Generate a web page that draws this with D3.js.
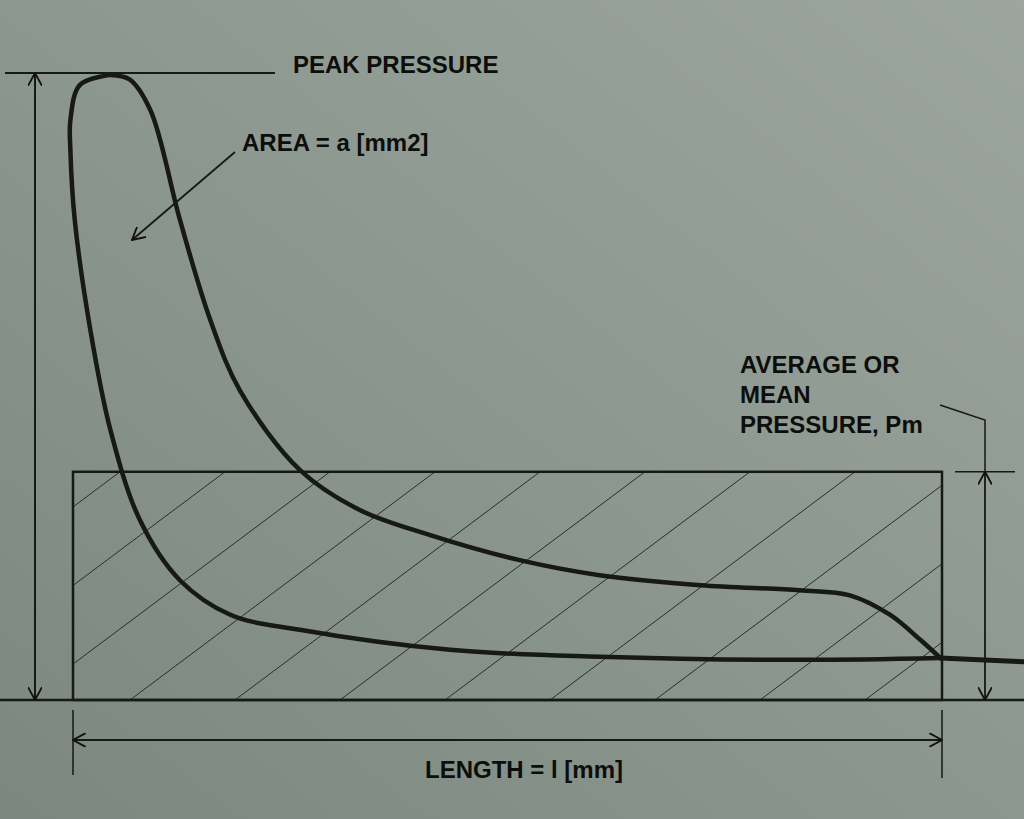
<!DOCTYPE html><html><head><meta charset="utf-8"><script src="https://cdn.jsdelivr.net/npm/d3@7"></script>
<style>body{margin:0;overflow:hidden}</style></head><body><script>
const expansionX=[4.3,6.5,8.9,12.3,15.8,19.2,26.1,33.0,41.1,51.4,60.6,72.2,83.6,89.4,94.0,97.5,99.8];
const expansionY=[99.7,99.0,94.1,76.6,60.6,49.4,36.7,30.3,26.3,22.3,19.9,18.3,17.5,16.7,13.6,9.6,6.7];
const compressionX=[99.8,83.6,60.6,43.4,26.1,18.1,12.3,7.7,4.3,2.0,0.2,-0.3,-0.3,0.8,4.3];
const compressionY=[6.7,6.4,6.9,8.0,11.2,13.6,19.1,28.7,43.1,59.0,76.6,87.7,92.5,98.1,99.7];
const tailX=[99.8,109.4];const tailY=[6.7,6.1];
const meanPressure=36.4;
const labels={peak:"PEAK PRESSURE",area:"AREA = a [mm2]",mean:["AVERAGE OR","MEAN","PRESSURE, Pm"],length:"LENGTH = l [mm]"};
const W=1024,H=819;
const x=d3.scaleLinear().domain([0,100]).range([73,942]);
const y=d3.scaleLinear().domain([0,100]).range([700,73]);
const svg=d3.select("body").append("svg").attr("width",W).attr("height",H);
const defs=svg.append("defs");
const g=defs.append("linearGradient").attr("id","bg").attr("x1","0").attr("y1","1").attr("x2","1").attr("y2","0");
g.append("stop").attr("offset","0").attr("stop-color","#7b877f");
g.append("stop").attr("offset","0.5").attr("stop-color","#8c978f");
g.append("stop").attr("offset","1").attr("stop-color","#9ca69f");
svg.append("rect").attr("width",W).attr("height",H).attr("fill","url(#bg)");
const mk=defs.append("marker").attr("id","ah").attr("viewBox","0 0 12 12").attr("refX",11).attr("refY",6).attr("markerWidth",14).attr("markerHeight",14).attr("markerUnits","userSpaceOnUse").attr("orient","auto-start-reverse");
mk.append("path").attr("d","M0,0L11,6L0,12").attr("fill","none").attr("stroke","#111").attr("stroke-width",1.6);
defs.append("clipPath").attr("id","rc").append("rect").attr("x",x(0)).attr("y",y(meanPressure)).attr("width",x(100)-x(0)).attr("height",y(0)-y(meanPressure));
const ink="#161916";
const ln=(x1,y1,x2,y2,w=2.5)=>svg.append("line").attr("x1",x1).attr("y1",y1).attr("x2",x2).attr("y2",y2).attr("stroke",ink).attr("stroke-width",w);
const hg=svg.append("g").attr("clip-path","url(#rc)");
for(let b=x(0)-363;b<x(100)+100;b+=105){hg.append("line").attr("x1",b).attr("y1",y(0)).attr("x2",b+305).attr("y2",y(meanPressure)).attr("stroke","#2a2e2b").attr("stroke-width",1);}
svg.append("rect").attr("x",x(0)).attr("y",y(meanPressure)).attr("width",x(100)-x(0)).attr("height",y(0)-y(meanPressure)).attr("fill","none").attr("stroke",ink).attr("stroke-width",2.5);
ln(0,y(0),W,y(0));
ln(5,y(100),275,y(100),2);
ln(35,y(100),35,y(0),2).attr("marker-start","url(#ah)").attr("marker-end","url(#ah)");
ln(955,y(meanPressure),1015,y(meanPressure),1.5);
ln(985,y(meanPressure),985,y(0),1.8).attr("marker-start","url(#ah)").attr("marker-end","url(#ah)");
svg.append("path").attr("d",`M940,405L985,420L985,${y(meanPressure)}`).attr("fill","none").attr("stroke",ink).attr("stroke-width",1.5);
ln(x(0),710,x(0),775,1.5);ln(x(100),710,x(100),778,1.5);
ln(x(0),740,x(100),740,1.8).attr("marker-start","url(#ah)").attr("marker-end","url(#ah)");
ln(235,152,132,240,1.8).attr("marker-end","url(#ah)");
const line=d3.line().x(d=>x(d[0])).y(d=>y(d[1])).curve(d3.curveCatmullRom);
const cur=(xs,ys,w)=>svg.append("path").attr("d",line(xs.map((v,i)=>[v,ys[i]]))).attr("fill","none").attr("stroke",ink).attr("stroke-width",w).attr("stroke-linecap","round");
cur(expansionX,expansionY,4.5);cur(compressionX,compressionY,4.5);cur(tailX,tailY,5);
const t=(s,x0,y0)=>svg.append("text").attr("x",x0).attr("y",y0).text(s).attr("font-family","Liberation Sans, Arial").attr("font-size",24).attr("font-weight","bold").attr("fill","#0c0e0c");
t(labels.peak,293,73);t(labels.area,242,151);
labels.mean.forEach((s,i)=>t(s,740,373+i*30));
t(labels.length,425,778);
</script></body></html>
